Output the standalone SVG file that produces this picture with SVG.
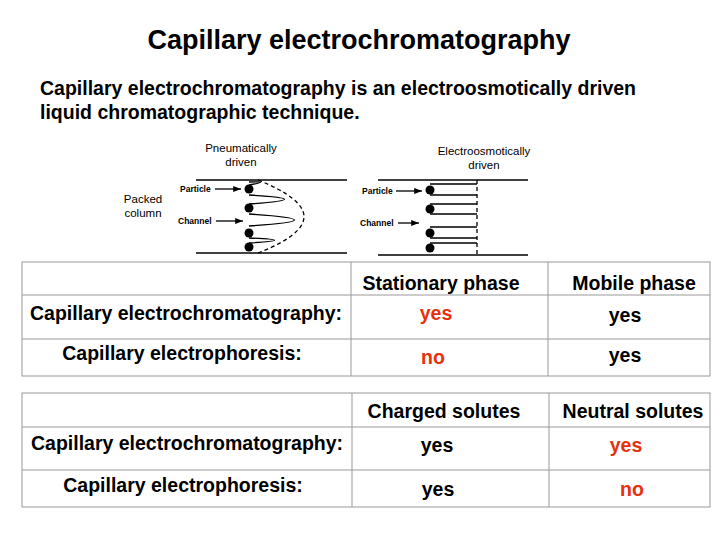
<svg xmlns="http://www.w3.org/2000/svg" width="720" height="540" viewBox="0 0 720 540">
<defs>
<style>
.b{font-family:"Liberation Sans",Arial,sans-serif;font-weight:bold;font-size:19.5px;fill:#000}
.r{fill:#e8300c}
.m{text-anchor:middle}
.s{font-family:"Liberation Sans",Arial,sans-serif;font-weight:bold;font-size:8.5px;fill:#000}
.sm{font-family:"Liberation Sans",Arial,sans-serif;font-size:11.5px;fill:#000;text-anchor:middle}
.ln{stroke:#000;stroke-width:1.3;fill:none}
.tb{stroke:#999;stroke-width:1;fill:#fff}
.tl{stroke:#999;stroke-width:1}
</style>
<marker id="ah" viewBox="0 0 10 10" refX="10" refY="5" markerWidth="6" markerHeight="6" orient="auto"><path d="M0,1L10,5L0,9z" fill="#000"/></marker>
</defs>
<rect width="720" height="540" fill="#fff"/>
<text class="b m" x="359" y="49" style="font-size:27px">Capillary electrochromatography</text>
<text class="b" x="40" y="95" style="font-size:19.5px">Capillary electrochromatography is an electroosmotically driven</text>
<text class="b" x="40" y="119" style="font-size:19.5px">liquid chromatographic technique.</text>

<g id="pneumatic">
<text class="sm" x="241" y="152">Pneumatically</text>
<text class="sm" x="241" y="166">driven</text>
<text class="sm" x="143" y="203">Packed</text>
<text class="sm" x="143" y="217">column</text>
<line class="ln" x1="196" y1="180" x2="347" y2="180"/>
<line class="ln" x1="196" y1="253" x2="347" y2="253"/>
<path class="ln" d="M249,185 Q272,181 249,182"/>
<path class="ln" d="M249,195 Q320,199 249,204"/>
<path class="ln" d="M249,214 Q340,220 249,226"/>
<path class="ln" d="M249,238 Q300,240 249,243"/>
<path class="ln" d="M258,180 Q350,217 258,253" stroke-dasharray="4,3"/>
<g fill="#000"><circle cx="249" cy="189" r="4.5"/><circle cx="249" cy="208" r="4.5"/><circle cx="249" cy="233" r="4.5"/><circle cx="249" cy="247" r="4.5"/></g>
<text class="s" x="180" y="192">Particle</text>
<line class="ln" x1="215" y1="189" x2="241" y2="189" marker-end="url(#ah)"/>
<text class="s" x="178" y="224">Channel</text>
<line class="ln" x1="216" y1="221" x2="243" y2="221" marker-end="url(#ah)"/>
</g>

<g id="electroosmotic">
<text class="sm" x="484" y="155">Electroosmotically</text>
<text class="sm" x="484" y="169">driven</text>
<line class="ln" x1="378" y1="180" x2="528" y2="180"/>
<line class="ln" x1="378" y1="255" x2="528" y2="255"/>
<path class="ln" d="M430,184 H477 M430,195 H477 M430,204 H477 M430,214 H477 M430,227 H477 M430,238 H477 M430,243 H477"/>
<line class="ln" x1="477" y1="180" x2="477" y2="255" stroke-dasharray="4,3"/>
<g fill="#000"><circle cx="430" cy="190" r="4.5"/><circle cx="430" cy="209" r="4.5"/><circle cx="430" cy="233" r="4.5"/><circle cx="430" cy="248" r="4.5"/></g>
<text class="s" x="362" y="194">Particle</text>
<line class="ln" x1="396" y1="191" x2="422" y2="191" marker-end="url(#ah)"/>
<text class="s" x="360" y="226">Channel</text>
<line class="ln" x1="398" y1="223" x2="419" y2="223" marker-end="url(#ah)"/>
</g>

<g id="table1">
<rect class="tb" x="22" y="262" width="688" height="114"/>
<line class="tl" x1="22" y1="295" x2="710" y2="295"/>
<line class="tl" x1="22" y1="339" x2="710" y2="339"/>
<line class="tl" x1="351" y1="262" x2="351" y2="376"/>
<line class="tl" x1="548" y1="262" x2="548" y2="376"/>
<text class="b m" x="441" y="290">Stationary phase</text>
<text class="b m" x="634" y="290">Mobile phase</text>
<text class="b m" x="186" y="320">Capillary electrochromatography:</text>
<text class="b m r" x="436" y="320">yes</text>
<text class="b m" x="625" y="322">yes</text>
<text class="b m" x="182" y="360">Capillary electrophoresis:</text>
<text class="b m r" x="433" y="364">no</text>
<text class="b m" x="625" y="362">yes</text>
</g>

<g id="table2">
<rect class="tb" x="22" y="393" width="688" height="114"/>
<line class="tl" x1="22" y1="427" x2="710" y2="427"/>
<line class="tl" x1="22" y1="470" x2="710" y2="470"/>
<line class="tl" x1="352" y1="393" x2="352" y2="507"/>
<line class="tl" x1="549" y1="393" x2="549" y2="507"/>
<text class="b m" x="444" y="418">Charged solutes</text>
<text class="b m" x="633" y="418">Neutral solutes</text>
<text class="b m" x="187" y="450">Capillary electrochromatography:</text>
<text class="b m" x="437" y="452">yes</text>
<text class="b m r" x="626" y="452">yes</text>
<text class="b m" x="183" y="492">Capillary electrophoresis:</text>
<text class="b m" x="438" y="496">yes</text>
<text class="b m r" x="632" y="496">no</text>
</g>
</svg>
